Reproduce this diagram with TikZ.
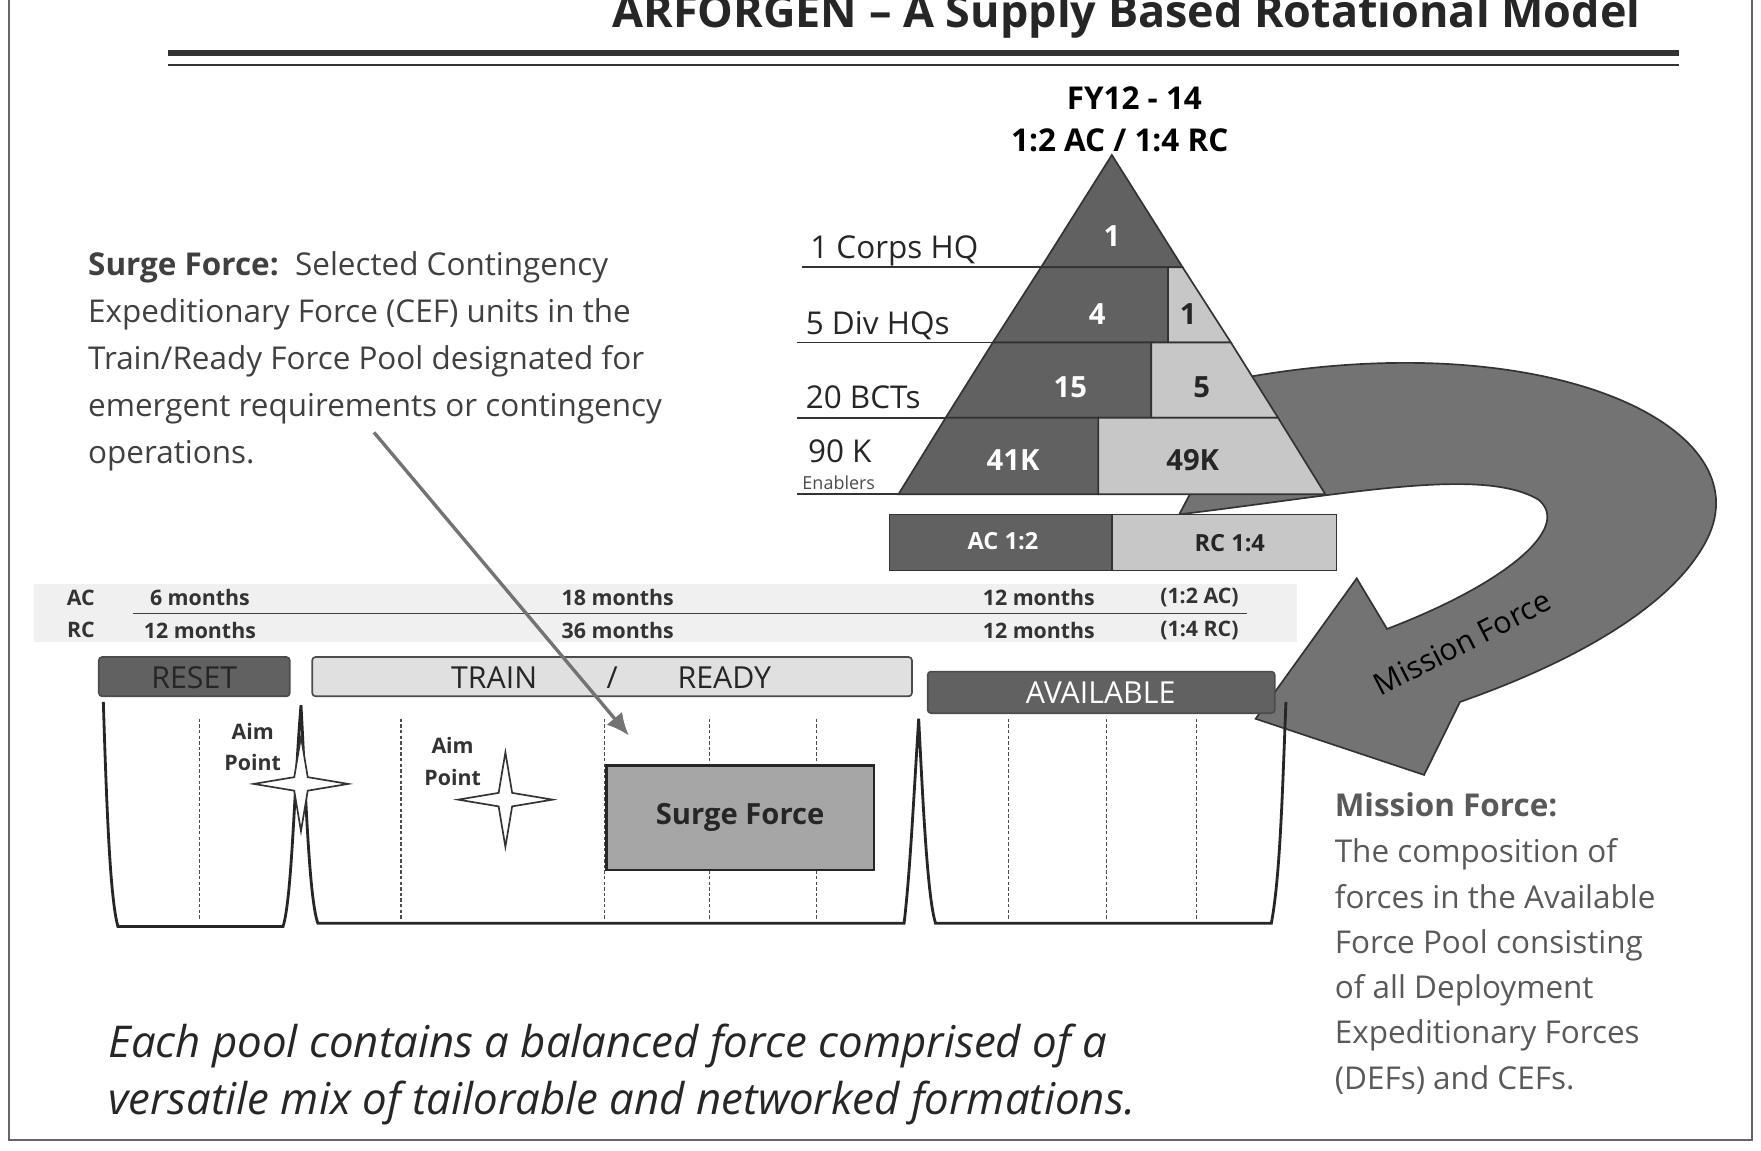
\documentclass[tikz,border=0pt]{standalone}
\usepackage{fontspec}
\setmainfont{Open Sans}
\usetikzlibrary{arrows.meta}
\begin{document}
\begin{tikzpicture}[x=1pt,y=-1pt,
  dk/.style={fill=black!62,draw=black!80,line width=1.5pt},
  lt/.style={fill=black!22,draw=black!80,line width=1.5pt},
  wt/.style={text=white,font=\bfseries\fontsize{26}{28}\selectfont},
  bk/.style={text=black!85,font=\bfseries\fontsize{26}{28}\selectfont},
  lab/.style={anchor=base west,font=\fontsize{28}{30}\selectfont,text=black!85},
  sm/.style={font=\bfseries\fontsize{19}{20}\selectfont,text=black!80},
  dsh/.style={densely dashed,line width=1pt,black!70},
  bucket/.style={line width=2.5pt,black!85},
  body/.style={anchor=base west,font=\fontsize{28}{30}\selectfont,text=black!75}]
\useasboundingbox (0,0) rectangle (1568,1024);
\draw[black!60,line width=2pt] (8,-5) rectangle (1560,1015);
\node[font=\bfseries\fontsize{40}{42}\selectfont,text=black!85] (title) at (1003,14) {ARFORGEN -- A Supply Based Rotational Model};
\draw[line width=5pt,black!80] (150,47) -- (1495,47);
\draw[line width=1.5pt,black!80] (150,58) -- (1495,58);
% mission force arrow
\path[fill=black!55,draw=black!80,line width=1.5pt] (1115,335) .. controls (1380,290) and (1570,380) .. (1520,480)
 .. controls (1490,540) and (1400,590) .. (1300,625) -- (1268,690) -- (1118,640) -- (1208,515) -- (1235,560)
 .. controls (1340,520) and (1400,470) .. (1370,445) .. controls (1320,415) and (1200,440) .. (1050,458) -- cycle;
\node[rotate=27,font=\fontsize{27}{30}\selectfont] (mf) at (1302,572) {Mission Force};
% pyramid
\path[dk] (990,138) -- (927,238) -- (1053,238) -- cycle;
\path[dk] (927,238) -- (884,305) -- (1040,305) -- (1040,238) -- cycle;
\path[lt] (1040,238) -- (1040,305) -- (1096,305) -- (1053,238) -- cycle;
\path[dk] (884,305) -- (842,372) -- (1025,372) -- (1025,305) -- cycle;
\path[lt] (1025,305) -- (1025,372) -- (1138,372) -- (1096,305) -- cycle;
\path[dk] (842,372) -- (800,440) -- (978,440) -- (978,372) -- cycle;
\path[lt] (978,372) -- (978,440) -- (1180,440) -- (1138,372) -- cycle;
\node[wt] (p1) at (990,210) {1};
\node[wt] (p4) at (977,280) {4};
\node[bk] (p1b) at (1058,280) {1};
\node[wt] (p15) at (953,345) {15};
\node[bk] (p5) at (1070,345) {5};
\node[wt] (p41) at (902,410) {41K};
\node[bk] (p49) at (1062,410) {49K};
\node[font=\bfseries\fontsize{28}{30}\selectfont] (fy) at (1010,87) {FY12 - 14};
\node[font=\bfseries\fontsize{28}{30}\selectfont] (rat) at (997,125) {1:2 AC / 1:4 RC};
\node[lab] (l1) at (718,230) {1 Corps HQ}; \draw[line width=1.5pt,black!80] (714,238) -- (927,238);
\node[lab] (l2) at (714,298) {5 Div HQs}; \draw[line width=1.5pt,black!80] (710,305) -- (884,305);
\node[lab] (l3) at (714,364) {20 BCTs}; \draw[line width=1.5pt,black!80] (710,372) -- (842,372);
\node[lab] (l4) at (716,412) {90 K};
\node[anchor=base west,font=\fontsize{16}{18}\selectfont,text=black!70] (l5) at (711,436) {Enablers};
\draw[line width=1.5pt,black!80] (710,440) -- (800,440);
\path[dk] (792,458) rectangle (990,508);
\path[lt] (990,458) rectangle (1190,508);
\node[wt,font=\bfseries\fontsize{21}{22}\selectfont] (ac) at (893,482) {AC 1:2};
\node[bk,font=\bfseries\fontsize{21}{22}\selectfont] (rc) at (1095,484) {RC 1:4};
% timeline
\fill[black!6] (30,520) rectangle (1155,572);
\draw[line width=1.2pt,black!75] (118,546) -- (1110,546);
\node[sm] at (72,532) {AC}; \node[sm] at (72,561) {RC};
\node[sm] at (178,532) {6 months}; \node[sm] at (178,561) {12 months};
\node[sm] at (550,532) {18 months}; \node[sm] at (550,561) {36 months};
\node[sm] at (925,532) {12 months}; \node[sm] at (925,561) {12 months};
\node[sm] at (1068,532) {(1:2 AC)}; \node[sm] at (1068,561) {(1:4 RC)};
% headers
\path[fill=black!62,draw=black!70,line width=1.5pt,rounded corners=3pt] (88,585) rectangle (258,620);
\node[font=\fontsize{27}{30}\selectfont,text=black!85] (reset) at (173,603) {RESET};
\path[fill=black!12,draw=black!70,line width=1.5pt,rounded corners=3pt] (278,585) rectangle (812,620);
\node[font=\fontsize{27}{30}\selectfont,text=black!85] (train) at (440,603) {TRAIN};
\node[font=\fontsize{27}{30}\selectfont,text=black!85] (sl) at (545,603) {/};
\node[font=\fontsize{27}{30}\selectfont,text=black!85] (ready) at (645,603) {READY};
\path[fill=black!62,draw=black!70,line width=1.5pt,rounded corners=3pt] (826,598) rectangle (1135,635);
\node[font=\fontsize{27}{30}\selectfont,text=white] (avail) at (980,617) {AVAILABLE};
% buckets
\draw[bucket] (92,625) .. controls (95,720) and (98,800) .. (105,825) -- (252,825) .. controls (260,800) and (262,700) .. (268,628)
 .. controls (272,700) and (275,800) .. (283,822) -- (805,822) .. controls (810,780) and (813,720) .. (818,640)
 .. controls (822,720) and (826,800) .. (833,822) -- (1132,822) .. controls (1140,780) and (1142,700) .. (1145,625);
\foreach \x in {178,357,538,632,727,898,985,1065} \draw[dsh] (\x,640) -- (\x,818);
% stars
\foreach \cx/\cy in {268/698,450/712}
  \draw[line width=1.5pt,black!80,fill=white] (\cx,\cy-42) -- (\cx+6,\cy-6) -- (\cx+42,\cy) -- (\cx+6,\cy+6) -- (\cx,\cy+42) -- (\cx-6,\cy+6) -- (\cx-42,\cy) -- (\cx-6,\cy-6) -- cycle;
\node[sm,align=center,font=\bfseries\fontsize{19}{28}\selectfont] (aim1) at (225,665) {Aim\\Point};
\node[sm,align=center,font=\bfseries\fontsize{19}{28}\selectfont] (aim2) at (403,678) {Aim\\Point};
\node[draw=black!85,fill=black!35,line width=2pt,minimum width=238,minimum height=93,font=\bfseries\fontsize{26}{28}\selectfont,text=black!85] (surge) at (659,728) {Surge Force};
% surge text
\node[body] at (75,245) {\textbf{Surge Force:}\ \ Selected Contingency};
\node[body] at (75,287) {Expeditionary Force (CEF) units in the};
\node[body] at (75,329) {Train/Ready Force Pool designated for};
\node[body] at (75,371) {emergent requirements or contingency};
\node[body] at (75,413) {operations.};
\coordinate (s0) at (333,385); \coordinate (s1) at (560,655);
\draw[line width=3pt,black!55,-{Latex[length=20pt,width=18pt]}] (s0) -- (s1);
% mission text
\node[body,text=black!65] at (1185,727) {\textbf{Mission Force:}};
\node[body,text=black!65] at (1185,768) {The composition of};
\node[body,text=black!65] at (1185,809) {forces in the Available};
\node[body,text=black!65] at (1185,849) {Force Pool consisting};
\node[body,text=black!65] at (1185,889) {of all Deployment};
\node[body,text=black!65] at (1185,929) {Expeditionary Forces};
\node[body,text=black!65] at (1185,970) {(DEFs) and CEFs.};
\node[anchor=base west,font=\itshape\fontsize{39}{41}\selectfont,text=black!85] at (93,942) {Each pool contains a balanced force comprised of a};
\node[anchor=base west,font=\itshape\fontsize{39}{41}\selectfont,text=black!85] at (93,992) {versatile mix of tailorable and networked formations.};
\end{tikzpicture}
\end{document}
